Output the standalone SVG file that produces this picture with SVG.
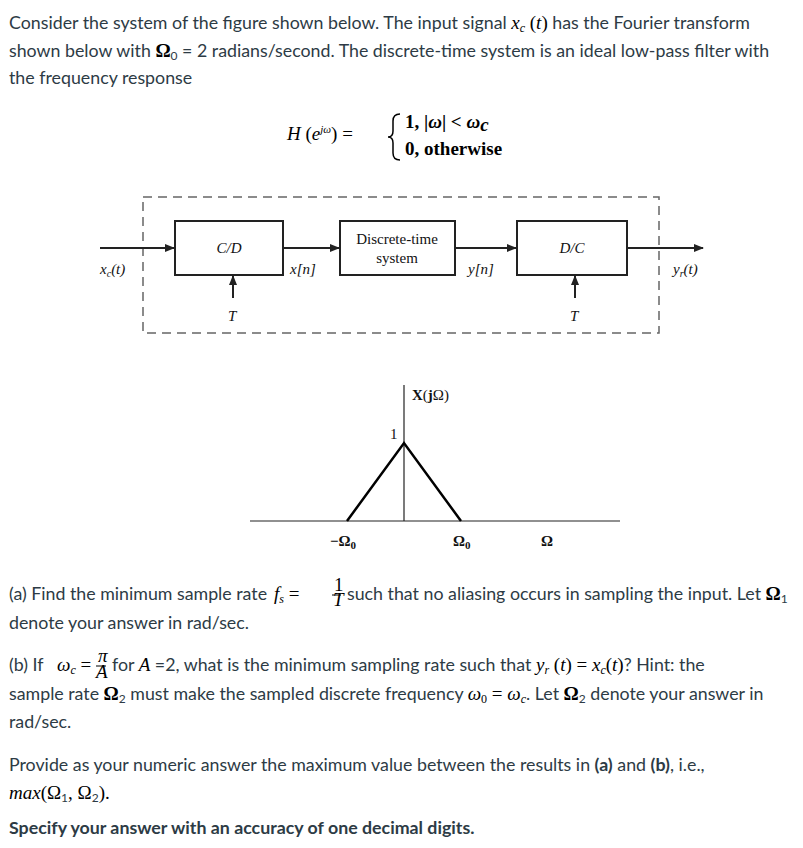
<svg xmlns="http://www.w3.org/2000/svg" width="803" height="848" viewBox="0 0 803 848">
<style>
.t{font-family:Lato,"Noto Sans",sans-serif;font-size:17.8px;fill:#2d3b45}
.b{font-weight:bold}
.m{font-family:"Liberation Serif",serif;font-style:italic;font-size:19px;fill:#000}
.n{font-family:"Liberation Serif",serif;font-style:normal;font-size:19px;fill:#000}
.O{font-family:"Liberation Serif",serif;font-style:normal;font-weight:bold;font-size:19px;fill:#000}
.s{font-size:12px}
.r{font-family:"Liberation Serif",serif;font-size:15px;fill:#111}
.ri{font-family:"Liberation Serif",serif;font-style:italic;font-size:15px;fill:#111}
.box{fill:#fff;stroke:#222;stroke-width:2}
.ln{stroke:#222;stroke-width:2;fill:none}
</style>
<defs><marker id="a" markerWidth="10" markerHeight="8" refX="9" refY="4" orient="auto" markerUnits="userSpaceOnUse"><path d="M0,0L10,4L0,8z" fill="#222"/></marker></defs>
<rect width="803" height="848" fill="#fff"/>
<text class="t" x="9" y="29">Consider the system of the figure shown below. The input signal <tspan class="m">x<tspan class="s" dy="3">c</tspan><tspan dy="-3" class="n"> (</tspan>t<tspan class="n">)</tspan></tspan> has the Fourier transform</text>
<text class="t" x="9" y="57">shown below with <tspan class="O">Ω</tspan><tspan class="s" dy="3">0</tspan><tspan dy="-3"> = 2 radians/second. The discrete-time system is an ideal low-pass filter with</tspan></text>
<text class="t" x="9" y="84">the frequency response</text>
<text class="m" x="287" y="140">H <tspan class="n">(</tspan>e<tspan font-size="11" dy="-7">jω</tspan><tspan dy="7" class="n">) = </tspan></text>
<path d="M400,114 Q393,114 393,121 L393,131 Q393,137 388,137 Q393,137 393,143 L393,153 Q393,160 400,160" fill="none" stroke="#000" stroke-width="1.5"/>
<text class="O" x="405" y="128">1, |<tspan class="m" style="font-weight:bold">ω</tspan>| &lt; <tspan class="m" style="font-weight:bold">ω</tspan><tspan font-size="11" dy="3" class="m">c</tspan></text>
<text class="O" x="405" y="155">0,  otherwise</text>
<g id="frame"><rect x="143" y="197" width="516" height="136" fill="none" stroke="#666" stroke-width="1.5" stroke-dasharray="9,6"/></g>
<g id="cd"><rect class="box" x="175" y="221" width="108" height="54"/><text class="ri" x="229" y="253" text-anchor="middle" font-size="16">C/D</text></g>
<g id="dts"><rect class="box" x="340" y="221" width="115" height="54"/><text class="r" x="397" y="244" text-anchor="middle" font-size="16">Discrete-time</text><text class="r" x="397" y="263" text-anchor="middle" font-size="16">system</text></g>
<g id="dc"><rect class="box" x="517" y="221" width="110" height="54"/><text class="ri" x="572" y="253" text-anchor="middle" font-size="16">D/C</text></g>
<g id="connectors">
<line class="ln" x1="100" y1="248" x2="174" y2="248" marker-end="url(#a)"/>
<line class="ln" x1="283" y1="248" x2="339" y2="248" marker-end="url(#a)"/>
<line class="ln" x1="455" y1="248" x2="516" y2="248" marker-end="url(#a)"/>
<line class="ln" x1="627" y1="248" x2="703" y2="248" marker-end="url(#a)"/>
<line class="ln" x1="233" y1="298" x2="233" y2="276" marker-end="url(#a)"/>
<line class="ln" x1="575" y1="298" x2="575" y2="276" marker-end="url(#a)"/>
</g>
<text class="ri" x="100" y="274">x<tspan font-size="10" dy="3">c</tspan><tspan dy="-3">(t)</tspan></text>
<text class="ri" x="290" y="274">x[n]</text>
<text class="ri" x="468" y="274">y[n]</text>
<text class="ri" x="673" y="274">y<tspan font-size="10" dy="3">r</tspan><tspan dy="-3">(t)</tspan></text>
<text class="ri" x="228" y="321">T</text>
<text class="ri" x="570" y="321">T</text>
<g id="plot">
<line x1="250" y1="521" x2="620" y2="521" stroke="#222" stroke-width="1.2"/>
<line x1="404" y1="385" x2="404" y2="521" stroke="#222" stroke-width="1.2"/>
<polyline points="347,521 404,443 461,521" fill="none" stroke="#000" stroke-width="2.5"/>
<text class="r" x="412" y="400" font-size="16" font-weight="bold">X<tspan font-weight="normal">(</tspan>j<tspan font-weight="normal">Ω)</tspan></text>
<text class="r" x="390" y="439" font-size="15">1</text>
<text class="r" x="330" y="546" font-size="16" font-weight="bold">−Ω<tspan font-size="11" dy="3">0</tspan></text>
<text class="r" x="453" y="546" font-size="16" font-weight="bold">Ω<tspan font-size="11" dy="3">0</tspan></text>
<text class="r" x="541" y="546" font-size="16" font-weight="bold">Ω</text>
</g>
<text class="t" x="9" y="600">(a) Find the minimum sample rate</text>
<text class="m" x="274" y="600">f<tspan class="s" dy="3">s</tspan><tspan dy="-3" class="n"> =</tspan></text>
<text class="n" x="334" y="591" font-size="11">1</text>
<line x1="332" y1="595" x2="341" y2="595" stroke="#000"/>
<text class="m" x="333" y="606" font-size="11">T</text>
<text class="t" x="347" y="600">such that no aliasing occurs in sampling the input. Let <tspan class="O">Ω</tspan><tspan class="s" dy="3">1</tspan></text>
<text class="t" x="9" y="629">denote your answer in rad/sec.</text>
<text class="t" x="9" y="671">(b) If</text>
<text class="m" x="57" y="671">ω<tspan class="s" dy="3">c</tspan><tspan dy="-3" class="n"> =</tspan></text>
<text class="m" x="98" y="662" font-size="11">π</text>
<line x1="96" y1="666" x2="106" y2="666" stroke="#000"/>
<text class="m" x="96" y="678" font-size="11">A</text>
<text class="t" x="112" y="671">for <tspan class="m">A</tspan> =2, what is the minimum sampling rate such that <tspan class="m">y<tspan class="s" dy="3">r</tspan><tspan dy="-3" class="n"> (</tspan>t<tspan class="n">) = </tspan>x<tspan class="s" dy="3">c</tspan><tspan dy="-3" class="n">(</tspan>t<tspan class="n">)</tspan></tspan>? Hint: the</text>
<text class="t" x="9" y="700">sample rate <tspan class="O">Ω</tspan><tspan class="s" dy="3">2</tspan><tspan dy="-3"> must make the sampled discrete frequency </tspan><tspan class="m">ω<tspan class="s n" dy="3">0</tspan><tspan dy="-3" class="n"> = </tspan>ω<tspan class="s" dy="3">c</tspan></tspan><tspan dy="-3">. Let </tspan><tspan class="O">Ω</tspan><tspan class="s" dy="3">2</tspan><tspan dy="-3"> denote your answer  in</tspan></text>
<text class="t" x="9" y="728">rad/sec.</text>
<text class="t" x="9" y="771">Provide as your numeric answer the maximum value between the results in <tspan class="b">(a)</tspan> and <tspan class="b">(b)</tspan>, i.e.,</text>
<text class="t" x="9" y="799"><tspan class="m">max<tspan class="n">(</tspan></tspan><tspan class="O" style="font-weight:normal">Ω</tspan><tspan class="s" dy="3">1</tspan><tspan dy="-3" class="n">, </tspan><tspan class="O" style="font-weight:normal">Ω</tspan><tspan class="s" dy="3">2</tspan><tspan dy="-3" class="n">).</tspan></text>
<text class="t b" x="9" y="834">Specify your answer with an accuracy of one decimal digits.</text>
</svg>
